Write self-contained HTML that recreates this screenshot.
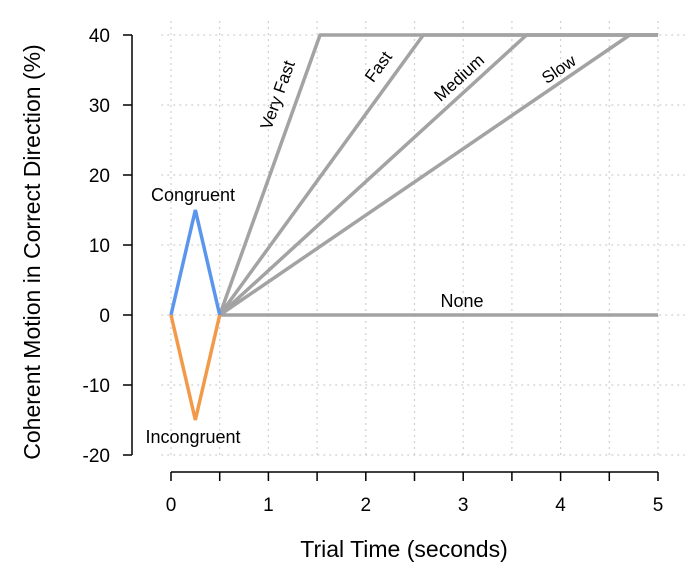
<!DOCTYPE html>
<html><head><meta charset="utf-8"><style>
html,body{margin:0;padding:0;background:#fff;}
svg{display:block;font-family:"Liberation Sans",Arial,sans-serif;}
</style></head><body>
<svg id="chart" width="685" height="569" viewBox="0 0 685 569">
<g id="grid"></g>
<g id="axes"></g>
<g id="series"></g>
<g id="labels"></g>
<text x="40" y="252" font-size="23" text-anchor="middle" transform="rotate(-90 40 252)">Coherent Motion in Correct Direction (%)</text>
<text x="404" y="557" font-size="23" text-anchor="middle">Trial Time (seconds)</text>
</svg>
<script>
const xTicks=[0,1,2,3,4,5];
const yTicks=[-20,-10,0,10,20,30,40];
const rampNames=["Very Fast","Fast","Medium","Slow"];
const rampEndTimes=[1.53,2.59,3.65,4.71];
const rampStart=[0.5,0];
const rampMax=40;
const noneLine=[[0.5,0],[5,0]];
const congruent=[[0,0],[0.25,15],[0.5,0]];
const incongruent=[[0,0],[0.25,-15],[0.5,0]];

const NS="http://www.w3.org/2000/svg";
const X=v=>171+v*97.4;
const Y=v=>315-v*7;
function mk(tag,attrs,parent){const e=document.createElementNS(NS,tag);for(const k in attrs)e.setAttribute(k,attrs[k]);parent.appendChild(e);return e;}
const grid=document.getElementById('grid'),axes=document.getElementById('axes'),series=document.getElementById('series'),labels=document.getElementById('labels');

for(let t=0;t<=5.001;t+=0.5){
  const l=mk('line',{x1:X(t),x2:X(t),y1:Y(42),y2:Y(-20),stroke:'#d0d0d0','stroke-width':1.2,'stroke-dasharray':'2,4'},grid);
  
  
}
yTicks.forEach(v=>{
  const l=mk('line',{x1:X(-0.1),x2:685,y1:Y(v),y2:Y(v),stroke:'#d0d0d0','stroke-width':1.2,'stroke-dasharray':'2,4'},grid);
  
  
});

let ya=mk('line',{x1:132,x2:132,y1:Y(40),y2:Y(-20),stroke:'#000','stroke-width':1.5},axes);


yTicks.forEach(v=>{
  const t=mk('line',{x1:123,x2:132,y1:Y(v),y2:Y(v),stroke:'#000','stroke-width':1.5},axes);
  
  
  const tx=mk('text',{x:110,y:Y(v)+7,'font-size':19,'text-anchor':'end'},axes);
  tx.textContent=v;
  
  
});
let xa=mk('line',{x1:X(0),x2:X(5),y1:472,y2:472,stroke:'#000','stroke-width':1.5},axes);


for(let t=0;t<=5.001;t+=0.5){
  const tk=mk('line',{x1:X(t),x2:X(t),y1:472,y2:481,stroke:'#000','stroke-width':1.5},axes);
  
  
}
xTicks.forEach(v=>{
  const tx=mk('text',{x:X(v),y:511,'font-size':19,'text-anchor':'middle'},axes);
  tx.textContent=v;
  
  
});

function pts(a){return a.map(p=>X(p[0])+','+Y(p[1])).join(' ');}
const gray='#a3a3a3';
let nl=mk('polyline',{points:pts(noneLine),fill:'none',stroke:gray,'stroke-width':3.5},series);


const labelOffsets=[[283,97],[383,70],[463,82],[562,74]];
rampNames.forEach((n,i)=>{
  const p=[rampStart,[rampEndTimes[i],rampMax],[5,rampMax]];
  const l=mk('polyline',{points:pts(p),fill:'none',stroke:gray,'stroke-width':3.5,'stroke-linejoin':'round'},series);
  
  
  const ang=-Math.atan2(Y(rampStart[1])-Y(rampMax),X(rampEndTimes[i])-X(rampStart[0]))*180/Math.PI;
  const [lx,ly]=labelOffsets[i];
  const t=mk('text',{x:lx,y:ly,'font-size':17,'text-anchor':'middle',transform:`rotate(${ang} ${lx} ${ly})`},labels);
  t.textContent=n;
  
  
});
let c=mk('polyline',{points:pts(congruent),fill:'none',stroke:'#5b95ee','stroke-width':3.5},series);


let ic=mk('polyline',{points:pts(incongruent),fill:'none',stroke:'#f39a4a','stroke-width':3.5},series);



const tl=[["Congruent",193,201],["Incongruent",193,443],["None",462,307]];
tl.forEach(([s,x,y])=>{
  const t=mk('text',{x:x,y:y,'font-size':18,'text-anchor':'middle'},labels);
  t.textContent=s;
  
  
});
</script>
</body></html>
